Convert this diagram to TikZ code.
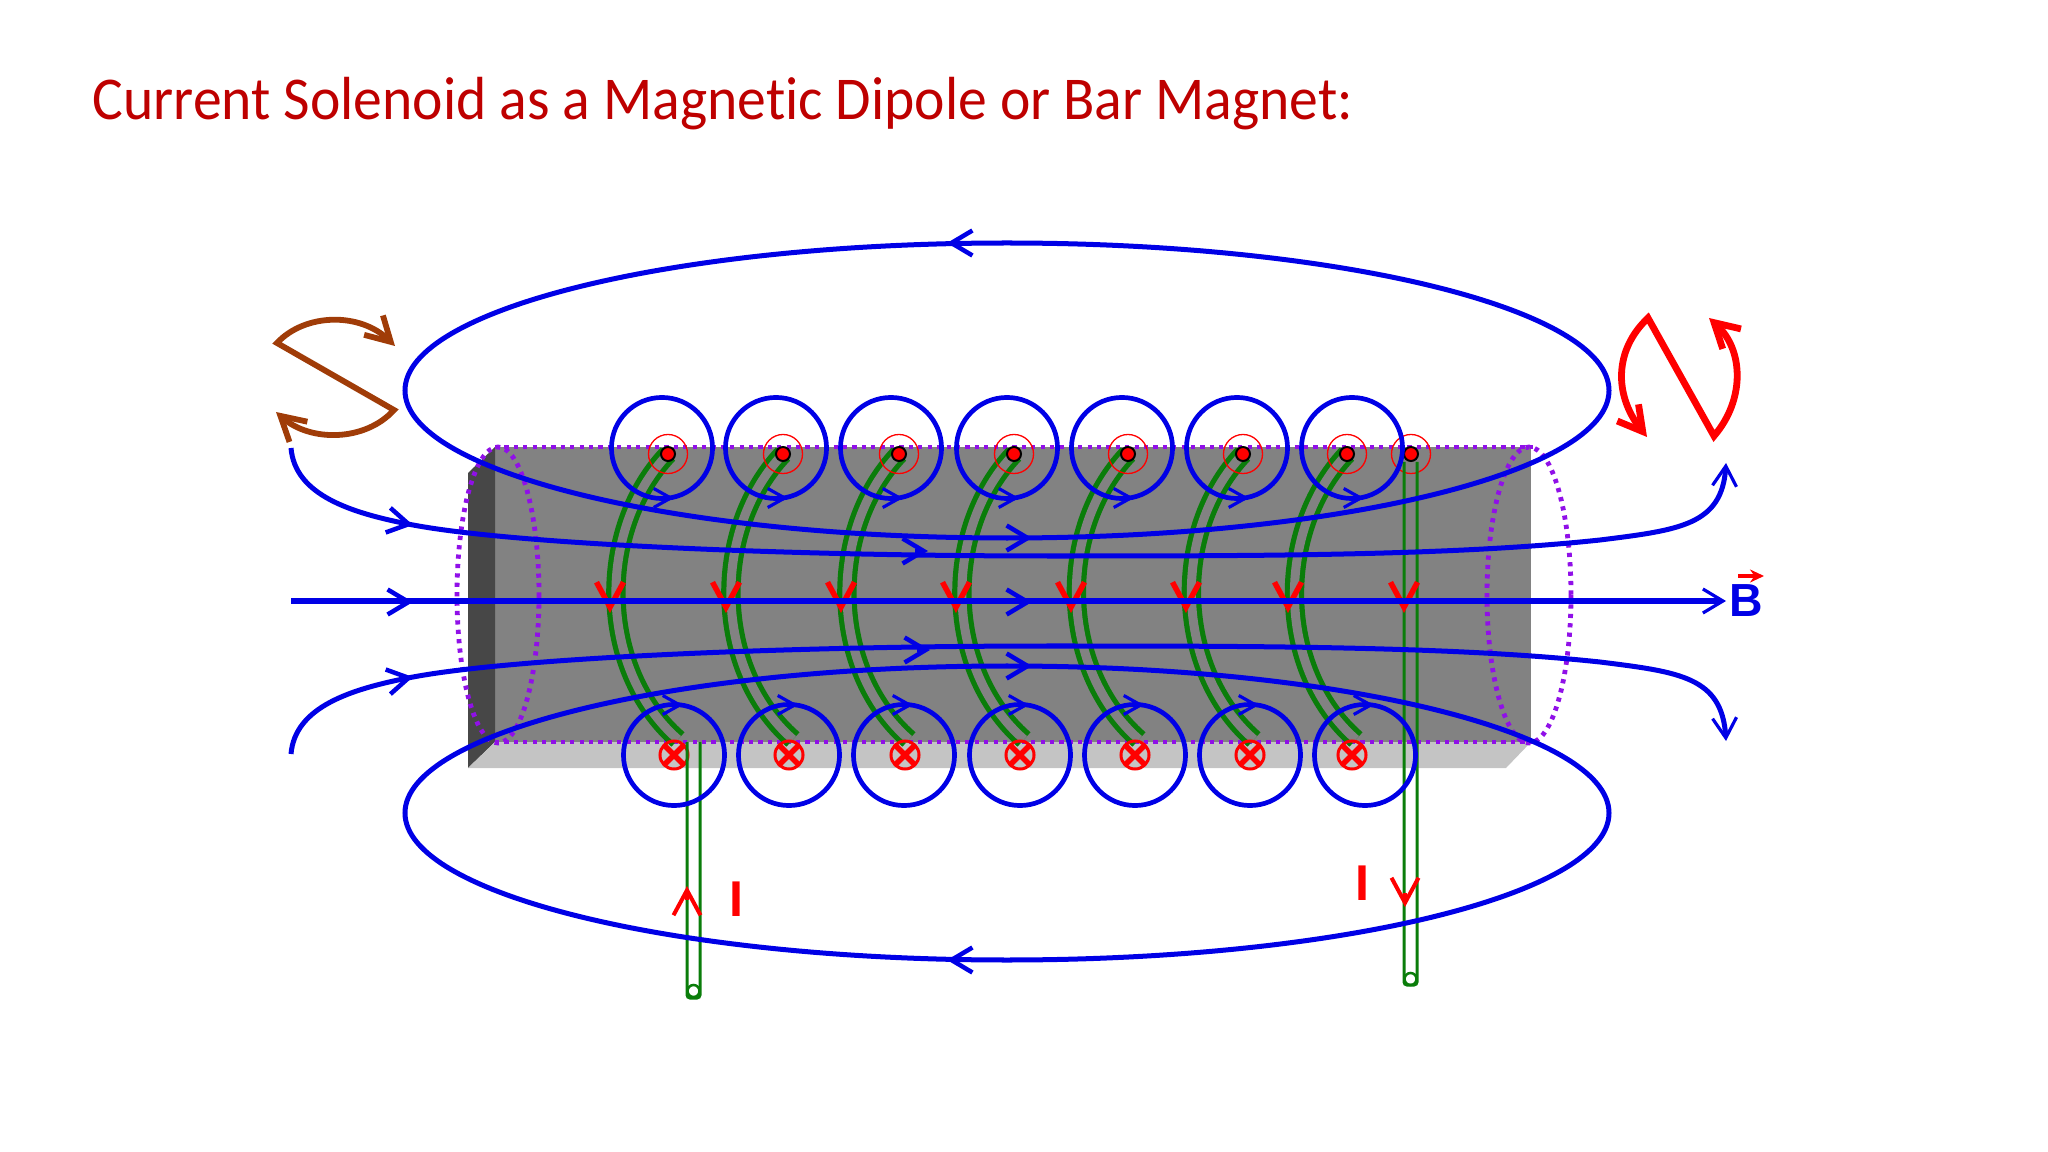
\documentclass[tikz,border=0pt]{standalone}
\usepackage{fontspec}
\newfontfamily\titlefont[FakeStretch=0.947,Ligatures=NoCommon]{Carlito}
\newfontfamily\labelfont{Liberation Sans}
\usetikzlibrary{arrows.meta,backgrounds}
\definecolor{fieldblue}{HTML}{0000E6}
\definecolor{coilgreen}{HTML}{0A7D0A}
\definecolor{dotpurple}{HTML}{9010E8}
\definecolor{titlered}{HTML}{BE0000}
\definecolor{rustbrown}{HTML}{A03C08}
\begin{document}
\begin{tikzpicture}[x=0.01cm,y=-0.01cm,>={Straight Barb[length=0.2cm,width=0.24cm,line width=0.032cm]},
    field/.style={draw=fieldblue,line width=0.05cm},
    field head/.style={fieldblue,line width=0.045cm,-{Straight Barb[length=0.21cm,width=0.25cm]}},
    ring head/.style={fieldblue,line width=0.032cm,-{Straight Barb[length=0.17cm,width=0.19cm]}},
    coil head/.style={red,line width=0.055cm,-{Straight Barb[length=0.25cm,width=0.27cm]}},
    wire head/.style={red,line width=0.04cm,-{Straight Barb[length=0.25cm,width=0.27cm]}},
    ring/.style={circle,draw=fieldblue,line width=0.047cm,minimum size=1.01cm,inner sep=0pt},
    dot/.style={circle,draw=black,fill=red,line width=0.02cm,minimum size=0.14cm,inner sep=0pt},
    halo/.style={circle,draw=red,line width=0.013cm,minimum size=0.39cm,inner sep=0pt},
    crossmark/.style={circle,draw=red,line width=0.03cm,minimum size=0.28cm,inner sep=0pt,
        path picture={\draw[red,line width=0.055cm] ([shift={(0.05cm,-0.05cm)}]path picture bounding box.north west) -- ([shift={(-0.05cm,0.05cm)}]path picture bounding box.south east)
            ([shift={(-0.05cm,-0.05cm)}]path picture bounding box.north east) -- ([shift={(0.05cm,0.05cm)}]path picture bounding box.south west);}},
    coil/.style={draw=coilgreen,line width=0.052cm,double=gray!98,double distance=0.09cm},
    wire/.style={draw=coilgreen,line width=0.03cm,rounded corners=0.03cm},
    dots/.style={draw=dotpurple,line width=0.048cm,dash pattern=on 0.042cm off 0.052cm}]

    \useasboundingbox (0,0) rectangle (2048,1152);

    \node[anchor=base west,inner sep=0pt,text=titlered,font=\titlefont\fontsize{17.3pt}{20pt}\selectfont] (title) at (92,120) {Current Solenoid as a Magnetic Dipole or Bar Magnet:};

    % magnet block
    \begin{scope}[on background layer]
    \fill[gray!98] (495,447) rectangle (1531,742);
    \fill[black!72] (468,473) -- (495,447) -- (495,742) -- (468,768) -- cycle;
    \fill[black!23] (468,768) -- (495,742) -- (1531,742) -- (1506,768) -- cycle;

    % dotted cylinder
    \draw[dots] (495,447) -- (1533,447);
    \draw[dots] (495,742) -- (1533,742);
    \draw[dots] (498,595) ellipse (41 and 148);
    \draw[dots] (1529,595) ellipse (42 and 148);
    \end{scope}

    % coil ends at the top
    \node[dot] (t1) at (668,454) {};
    \node[dot] (t2) at (783,454) {};
    \node[dot] (t3) at (899,454) {};
    \node[dot] (t4) at (1014,454) {};
    \node[dot] (t5) at (1128,454) {};
    \node[dot] (t6) at (1243,454) {};
    \node[dot] (t7) at (1347,454) {};
    \node[dot] (t8) at (1411,454) {};
    \node[halo] (h1) at (t1) {};
    \node[halo] (h2) at (t2) {};
    \node[halo] (h3) at (t3) {};
    \node[halo] (h4) at (t4) {};
    \node[halo] (h5) at (t5) {};
    \node[halo] (h6) at (t6) {};
    \node[halo] (h7) at (t7) {};
    \node[halo] (h8) at (t8) {};

    % coil ends at the bottom
    \node[crossmark] (x1) at (674,755) {};
    \node[crossmark] (x2) at (789,755) {};
    \node[crossmark] (x3) at (905,755) {};
    \node[crossmark] (x4) at (1020,755) {};
    \node[crossmark] (x5) at (1135,755) {};
    \node[crossmark] (x6) at (1250,755) {};
    \node[crossmark] (x7) at (1352,755) {};

    % coil turns
    \begin{scope}[on background layer]
    \draw[coil] (t1.center) .. controls +(-72,76) and +(-80,-70) .. ([xshift=0.04cm]x1.north);
    \draw[coil] (t2.center) .. controls +(-72,76) and +(-80,-70) .. ([xshift=0.04cm]x2.north);
    \draw[coil] (t3.center) .. controls +(-72,76) and +(-80,-70) .. ([xshift=0.04cm]x3.north);
    \draw[coil] (t4.center) .. controls +(-72,76) and +(-80,-70) .. ([xshift=0.04cm]x4.north);
    \draw[coil] (t5.center) .. controls +(-72,76) and +(-80,-70) .. ([xshift=0.04cm]x5.north);
    \draw[coil] (t6.center) .. controls +(-72,76) and +(-80,-70) .. ([xshift=0.04cm]x6.north);
    \draw[coil] (t7.center) .. controls +(-72,76) and +(-80,-70) .. ([xshift=0.04cm]x7.north);
    \end{scope}

    % leads
    \node[circle,draw=coilgreen,line width=0.025cm,minimum size=0.12cm,inner sep=0pt] (lead1) at (693.5,991) {};
    \node[circle,draw=coilgreen,line width=0.025cm,minimum size=0.12cm,inner sep=0pt] (lead2) at (1410.5,979) {};
    \coordinate (a1) at (687,742);
    \coordinate (a2) at (687,998);
    \coordinate (a3) at (700,998);
    \coordinate (a4) at (700,742);
    \coordinate (b1) at (1404,462);
    \coordinate (b2) at (1404,985);
    \coordinate (b3) at (1417,985);
    \coordinate (b4) at (1417,462);
    \draw[wire] (a1) -- (a2) -- (a3) -- (a4);
    \draw[wire] (b1) -- (b2) -- (b3) -- (b4);

    % current direction
    \draw[coil head] (610,600) -- (610,613);
    \draw[coil head] (726,600) -- (726,613);
    \draw[coil head] (841,600) -- (841,613);
    \draw[coil head] (956,600) -- (956,613);
    \draw[coil head] (1071,600) -- (1071,613);
    \draw[coil head] (1186,600) -- (1186,613);
    \draw[coil head] (1288,600) -- (1288,613);
    \draw[coil head] (1404,600) -- (1404,613);
    \draw[wire head] (687,900) -- (687,886);
    \draw[wire head] (1405,893) -- (1405,907);
    \node[red,font=\labelfont\bfseries\fontsize{14.3pt}{16pt}\selectfont,inner sep=0pt] (il) at (736,899) {I};
    \node[red,font=\labelfont\bfseries\fontsize{14.3pt}{16pt}\selectfont,inner sep=0pt] (ir) at (1362,883) {I};

    % rings round the wires
    \node[ring] (c1) at (662,448) {};
    \node[ring] (c2) at (776,448) {};
    \node[ring] (c3) at (891,448) {};
    \node[ring] (c4) at (1007,448) {};
    \node[ring] (c5) at (1122,448) {};
    \node[ring] (c6) at (1237,448) {};
    \node[ring] (c7) at (1352,448) {};
    \node[ring] (d1) at (674,755) {};
    \node[ring] (d2) at (789,755) {};
    \node[ring] (d3) at (904,755) {};
    \node[ring] (d4) at (1020,755) {};
    \node[ring] (d5) at (1135,755) {};
    \node[ring] (d6) at (1250,755) {};
    \node[ring] (d7) at (1365,755) {};

    \draw[ring head] (664,498) -- (674,498);
    \draw[ring head] (778,498) -- (788,498);
    \draw[ring head] (893,498) -- (903,498);
    \draw[ring head] (1009,498) -- (1019,498);
    \draw[ring head] (1124,498) -- (1134,498);
    \draw[ring head] (1239,498) -- (1249,498);
    \draw[ring head] (1354,498) -- (1364,498);
    \draw[ring head] (673,705) -- (683,705);
    \draw[ring head] (788,705) -- (798,705);
    \draw[ring head] (903,705) -- (913,705);
    \draw[ring head] (1019,705) -- (1029,705);
    \draw[ring head] (1134,705) -- (1144,705);
    \draw[ring head] (1249,705) -- (1259,705);
    \draw[ring head] (1364,705) -- (1374,705);

    % big field loops
    \draw[field] (1007,390.5) ellipse (602 and 147.5);
    \draw[field] (1007,813) ellipse (602 and 147);
    \draw[field head] (970,243) -- (947,243);
    \draw[field head] (970,960) -- (947,960);
    \draw[field head] (1015,538) -- (1032,538);
    \draw[field head] (1015,666) -- (1032,666);

    % field lines through the solenoid
    \node[text=fieldblue,font=\labelfont\bfseries\fontsize{13.2pt}{15pt}\selectfont,inner sep=0pt] (b) at (1746,601) {B};
    \coordinate (f1) at (291,448);
    \coordinate (f2) at (1726,463);
    \coordinate (g1) at (291,601);
    \coordinate (g2) at (1726,601);
    \coordinate (k1) at (291,754);
    \coordinate (k2) at (1726,741);
    \draw[field,->] (f1) .. controls (295,495) and (350,513) .. (413,525) .. controls (520,545) and (800,556) .. (1050,556) .. controls (1250,556) and (1450,556) .. (1600,540) .. controls (1680,530) and (1722,525) .. (f2);
    \draw[field,->] (g1) -- (g2);
    \draw[field,->] (k1) .. controls (295,707) and (350,689) .. (413,677) .. controls (520,657) and (800,646) .. (1050,646) .. controls (1250,646) and (1450,646) .. (1600,662) .. controls (1680,672) and (1722,677) .. (k2);
    \draw[field head] (400,522.5) -- (413,525);
    \draw[field head] (400,602) -- (413,602);
    \draw[field head] (400,679.5) -- (413,677);
    \draw[field head] (915,551) -- (928,551);
    \draw[field head] (1019,602) -- (1032,602);
    \draw[field head] (917,650) -- (930,650);
    \coordinate (v1) at (1738,576);
    \coordinate (v2) at (1764,576);
    \draw[red,line width=0.03cm,-{Stealth[length=0.14cm,width=0.13cm]}] (v1) -- (v2);

    % winding sense
    \coordinate (s1) at (395,346);
    \coordinate (s2) at (277,343);
    \coordinate (s3) at (394,410);
    \coordinate (s4) at (276,412);
    \draw[rustbrown,line width=0.058cm,<->,>={Straight Barb[length=0.24cm,width=0.27cm]}] (s1) .. controls (360,312) and (305,313) .. (s2) -- (s3) .. controls (365,442) and (310,442) .. (s4);
    \coordinate (n1) at (1647,437);
    \coordinate (n2) at (1648,318);
    \coordinate (n3) at (1714,436);
    \coordinate (n4) at (1709,318);
    \draw[red,line width=0.068cm,<->,>={Straight Barb[length=0.24cm,width=0.27cm]}] (n1) .. controls (1614,395) and (1614,350) .. (n2) -- (n3) .. controls (1745,400) and (1744,350) .. (n4);
\end{tikzpicture}
\end{document}
